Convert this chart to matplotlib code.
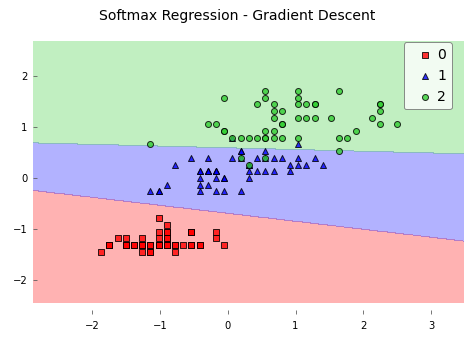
import numpy as np
import matplotlib
matplotlib.use("Agg")
import matplotlib.pyplot as plt

# iris: sepal length (cm) and petal width (cm) per species
setosa_sl = [5.1, 4.9, 4.7, 4.6, 5.0, 5.4, 4.6, 5.0, 4.4, 4.9,
             5.4, 4.8, 4.8, 4.3, 5.8, 5.7, 5.4, 5.1, 5.7, 5.1,
             5.4, 5.1, 4.6, 5.1, 4.8, 5.0, 5.0, 5.2, 5.2, 4.7,
             4.8, 5.4, 5.2, 5.5, 4.9, 5.0, 5.5, 4.9, 4.4, 5.1,
             5.0, 4.5, 4.4, 5.0, 5.1, 4.8, 5.1, 4.6, 5.3, 5.0]
setosa_pw = [0.2, 0.2, 0.2, 0.2, 0.2, 0.4, 0.3, 0.2, 0.2, 0.1,
             0.2, 0.2, 0.1, 0.1, 0.2, 0.4, 0.4, 0.3, 0.3, 0.3,
             0.2, 0.4, 0.2, 0.5, 0.2, 0.2, 0.4, 0.2, 0.2, 0.2,
             0.2, 0.4, 0.1, 0.2, 0.2, 0.2, 0.2, 0.1, 0.2, 0.2,
             0.3, 0.3, 0.2, 0.6, 0.4, 0.3, 0.2, 0.2, 0.2, 0.2]
versicolor_sl = [7.0, 6.4, 6.9, 5.5, 6.5, 5.7, 6.3, 4.9, 6.6, 5.2,
                 5.0, 5.9, 6.0, 6.1, 5.6, 6.7, 5.6, 5.8, 6.2, 5.6,
                 5.9, 6.1, 6.3, 6.1, 6.4, 6.6, 6.8, 6.7, 6.0, 5.7,
                 5.5, 5.5, 5.8, 6.0, 5.4, 6.0, 6.7, 6.3, 5.6, 5.5,
                 5.5, 6.1, 5.8, 5.0, 5.6, 5.7, 5.7, 6.2, 5.1, 5.7]
versicolor_pw = [1.4, 1.5, 1.5, 1.3, 1.5, 1.3, 1.6, 1.0, 1.3, 1.4,
                 1.0, 1.5, 1.0, 1.4, 1.3, 1.4, 1.5, 1.0, 1.5, 1.1,
                 1.8, 1.3, 1.5, 1.2, 1.3, 1.4, 1.4, 1.7, 1.5, 1.0,
                 1.1, 1.0, 1.2, 1.6, 1.5, 1.6, 1.5, 1.3, 1.3, 1.3,
                 1.2, 1.4, 1.2, 1.0, 1.3, 1.2, 1.3, 1.3, 1.1, 1.3]
virginica_sl = [6.3, 5.8, 7.1, 6.3, 6.5, 7.6, 4.9, 7.3, 6.7, 7.2,
                6.5, 6.4, 6.8, 5.7, 5.8, 6.4, 6.5, 7.7, 7.7, 6.0,
                6.9, 5.6, 7.7, 6.3, 6.7, 7.2, 6.2, 6.1, 6.4, 7.2,
                7.4, 7.9, 6.4, 6.3, 6.1, 7.7, 6.3, 6.4, 6.0, 6.9,
                6.7, 6.9, 5.8, 6.8, 6.7, 6.7, 6.3, 6.5, 6.2, 5.9]
virginica_pw = [2.5, 1.9, 2.1, 1.8, 2.2, 2.1, 1.7, 1.8, 1.8, 2.5,
                2.0, 1.9, 2.1, 2.0, 2.4, 2.3, 1.8, 2.2, 2.3, 1.5,
                2.3, 2.0, 2.0, 1.8, 2.1, 1.8, 1.8, 1.8, 2.1, 1.6,
                1.9, 2.0, 2.2, 1.5, 1.4, 2.3, 2.4, 1.8, 1.8, 2.1,
                2.4, 2.3, 1.9, 2.3, 2.5, 2.3, 1.9, 2.0, 2.3, 1.8]

class_labels = ["0", "1", "2"]
class_colors = ["red", "blue", "limegreen"]
class_markers = ["s", "^", "o"]

# fitted softmax parameters (features: standardized sepal length, petal width)
weights = np.array([[0.0, 0.477, 0.580],
                    [0.0, 3.000, 6.000]])
bias = np.array([0.0, 2.079, 0.288])

groups = [(setosa_sl, setosa_pw),
          (versicolor_sl, versicolor_pw),
          (virginica_sl, virginica_pw)]

X = np.column_stack([np.concatenate([g[0] for g in groups]),
                     np.concatenate([g[1] for g in groups])])
y = np.concatenate([np.full(len(g[0]), i) for i, g in enumerate(groups)])
X_std = (X - X.mean(axis=0)) / X.std(axis=0)


def predict(points):
    net = points.dot(weights) + bias
    return net.argmax(axis=1)


res = 0.02
x1_min, x1_max = X_std[:, 0].min() - 1, X_std[:, 0].max() + 1
x2_min, x2_max = X_std[:, 1].min() - 1, X_std[:, 1].max() + 1
xx1, xx2 = np.meshgrid(np.arange(x1_min, x1_max, res),
                       np.arange(x2_min, x2_max, res))
Z = predict(np.c_[xx1.ravel(), xx2.ravel()]).reshape(xx1.shape)

fig = plt.figure(figsize=(474 / 72, 343 / 72), dpi=72)
ax = fig.add_axes([0.0703, 0.0831, 0.9092, 0.7974])

ax.contourf(xx1, xx2, Z, levels=[-0.5, 0.5, 1.5, 2.5],
            colors=class_colors, alpha=0.3)

for idx, lab in enumerate(class_labels):
    ax.scatter(X_std[y == idx, 0], X_std[y == idx, 1],
               c=class_colors[idx], marker=class_markers[idx],
               s=36, alpha=0.8, edgecolors="black", linewidths=1,
               label=lab)

ax.set_xlim(xx1.min(), xx1.max())
ax.set_ylim(xx2.min() - 0.235, xx2.max())
ax.set_xticks([-2, -1, 0, 1, 2, 3])
ax.set_yticks([-2, -1, 0, 1, 2])

for side in ax.spines.values():
    side.set_visible(False)
ax.tick_params(direction="in", length=4, width=0.8, color="0.35",
               labelsize=10)
ax.tick_params(axis="x", pad=7)
ax.tick_params(axis="y", pad=6)

ax.legend(loc="upper right", bbox_to_anchor=(0.9708, 0.9953),
          borderaxespad=0, fontsize=14, scatterpoints=1,
          handlelength=2.2, handletextpad=-0.2,
          framealpha=0.8, edgecolor="0.45", fancybox=True)

fig.text(0.5, 0.943, "Softmax Regression - Gradient Descent",
         ha="center", va="baseline", fontsize=14)

fig.savefig("out.png", dpi=72)
